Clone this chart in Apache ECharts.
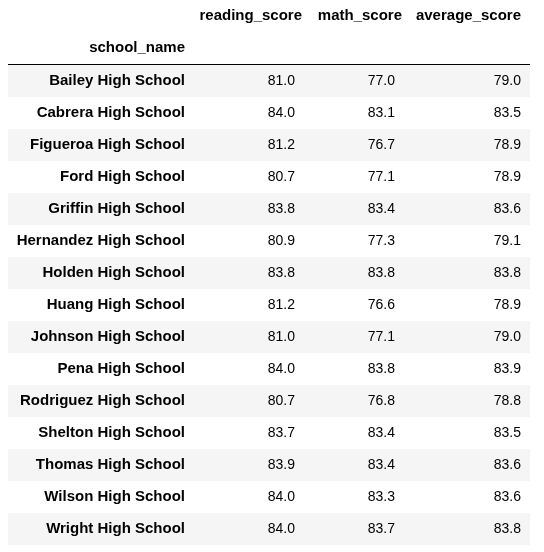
<!DOCTYPE html>
<html>
<head>
<meta charset="utf-8">
<script src="https://cdn.jsdelivr.net/npm/echarts@6/dist/echarts.min.js"></script>
<style>html,body{margin:0;padding:0;background:#fff}#main{width:544px;height:552px}</style>
</head>
<body>
<div id="main"></div>
<script>
var schools = ['Bailey High School', 'Cabrera High School', 'Figueroa High School', 'Ford High School',
    'Griffin High School', 'Hernandez High School', 'Holden High School', 'Huang High School',
    'Johnson High School', 'Pena High School', 'Rodriguez High School', 'Shelton High School',
    'Thomas High School', 'Wilson High School', 'Wright High School'];
var columns = ['reading_score', 'math_score', 'average_score'];
var reading = [81.0, 84.0, 81.2, 80.7, 83.8, 80.9, 83.8, 81.2, 81.0, 84.0, 80.7, 83.7, 83.9, 84.0, 84.0];
var math = [77.0, 83.1, 76.7, 77.1, 83.4, 77.3, 83.8, 76.6, 77.1, 83.8, 76.8, 83.4, 83.4, 83.3, 83.7];
var average = [79.0, 83.5, 78.9, 78.9, 83.6, 79.1, 83.8, 78.9, 79.0, 83.9, 78.8, 83.5, 83.6, 83.6, 83.8];

var font = 'Arial, "Liberation Sans", sans-serif';
var bold = 'bold 15px ' + font;
var nameX = 185, colX = [295, 395, 521], headX = [302, 402, 521];

var myChart = echarts.init(document.getElementById('main'));

var rows = schools.map(function (s, i) { return [i, reading[i], math[i], average[i]]; });

var option = {
    animation: false,
    grid: { left: 0, right: 0, top: 65, bottom: 7 },
    xAxis: { type: 'value', min: 0, max: 544, show: false },
    yAxis: { type: 'category', data: schools, inverse: true, show: false },
    graphic: [
        { type: 'text', style: { text: columns[0], x: headX[0], y: 16, align: 'right', verticalAlign: 'middle', font: bold, fill: '#000' } },
        { type: 'text', style: { text: columns[1], x: headX[1], y: 16, align: 'right', verticalAlign: 'middle', font: bold, fill: '#000' } },
        { type: 'text', style: { text: columns[2], x: headX[2], y: 16, align: 'right', verticalAlign: 'middle', font: bold, fill: '#000' } },
        { type: 'text', style: { text: 'school_name', x: nameX, y: 48, align: 'right', verticalAlign: 'middle', font: bold, fill: '#000' } },
        { type: 'line', shape: { x1: 8, y1: 64.5, x2: 530, y2: 64.5 }, style: { stroke: '#000', lineWidth: 1 } }
    ],
    series: [{
        type: 'custom',
        data: rows,
        renderItem: function (params, api) {
            var idx = api.value(0);
            var y = api.coord([0, idx])[1];
            var h = api.size([0, 1])[1];
            var children = [{
                type: 'rect',
                shape: { x: 8, y: y - h / 2, width: 522, height: h },
                style: { fill: idx % 2 === 0 ? '#f5f5f5' : '#ffffff' }
            }, {
                type: 'text',
                style: { text: schools[idx], x: nameX, y: y, align: 'right', verticalAlign: 'middle', font: bold, fill: '#000' }
            }];
            for (var c = 0; c < 3; c++) {
                children.push({
                    type: 'text',
                    style: { text: api.value(c + 1).toFixed(1), x: colX[c], y: y, align: 'right', verticalAlign: 'middle', font: '14px ' + font, fill: '#000' }
                });
            }
            return { type: 'group', children: children };
        }
    }]
};

myChart.setOption(option);
</script>
</body>
</html>
